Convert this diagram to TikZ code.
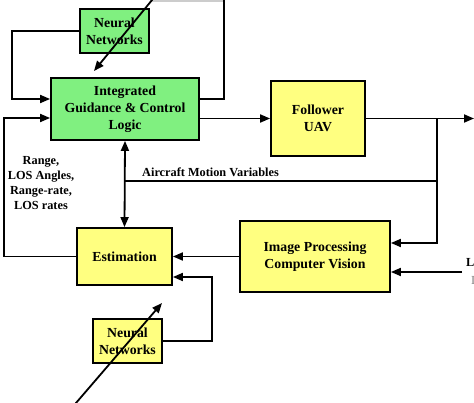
\documentclass[tikz,border=0pt]{standalone}
\usepackage{fontspec}
\setmainfont{Liberation Serif}
\usetikzlibrary{arrows.meta,calc}
\definecolor{boxgreen}{RGB}{128,240,128}
\definecolor{boxyellow}{RGB}{255,255,128}
\begin{document}
\begin{tikzpicture}[x=1pt,y=-1pt,
  box/.style={draw,line width=1.8pt,font=\fontsize{13.8}{17}\selectfont\bfseries,align=center,inner sep=0pt},
  gbox/.style={box,fill=boxgreen},
  ybox/.style={box,fill=boxyellow},
  conn/.style={line width=1.8pt},
  arr/.style={conn,-{Triangle[length=10pt,width=8pt]}},
  darr/.style={conn,{Triangle[length=10pt,width=8pt]}-{Triangle[length=10pt,width=8pt]}},
  lbl/.style={font=\fontsize{12.3}{15}\selectfont\bfseries,align=center,inner sep=0pt}]
\useasboundingbox (0,0) rectangle (474,403);
\fill[white] (0,0) rectangle (474,403);
\clip (0,0) rectangle (474,403);
% boxes
\node[gbox,minimum width=69pt,minimum height=44pt] (nnT) at (114.5,31) {Neural\\Networks};
\node[gbox,minimum width=148pt,minimum height=62pt] (igcl) at (125,109) {Integrated\\Guidance \& Control\\Logic};
\node[ybox,minimum width=94pt,minimum height=75pt] (uav) at (318,118.5) {Follower\\UAV};
\node[ybox,minimum width=95pt,minimum height=57pt] (est) at (124.5,256.5) {Estimation};
\node[ybox,minimum width=150pt,minimum height=71pt] (ipcv) at (315,256.5) {Image Processing\\Computer Vision};
\node[ybox,minimum width=69pt,minimum height=44pt] (nnB) at (127.5,341) {Neural\\Networks};
% helper coordinates
\coordinate (topfb) at (224,-10);
\coordinate (br) at (437,118.5);
\coordinate (out) at (474,118.5);
\coordinate (amv) at (437,181);
\coordinate (inL) at (462,272);
\coordinate (dTs) at (160.2,-10);
\coordinate (dTe) at (94,71);
\coordinate (dBs) at (67.4,413);
\coordinate (dBe) at (162,303);
% faint top line
\draw[gray!40,line width=1.5pt] (150,0.8) -- (224,0.8);
% connectors
\draw[arr] (nnT.west) -| (12,99) -- ([yshift=10pt]igcl.west);
\draw[conn] ([yshift=10pt]igcl.east) -| (topfb);
\draw[arr] (est.west) -| (4,118) -- ([yshift=-9pt]igcl.west);
\draw[arr] (igcl.east |- uav.west) -- (uav.west);
\draw[arr] (uav.east) -- (out);
\draw[darr] (igcl.south) -- (est.north);
\draw[conn] (br) -- (amv) -- (igcl.south |- amv);
\draw[arr] (br) |- ([yshift=13.5pt]ipcv.east);
\draw[arr] (inL) -- ([yshift=-15.5pt]ipcv.east);
\draw[arr] (ipcv.west) -- (est.east);
\draw[arr] (nnB.east) -| (212,300) |- ([yshift=-20.5pt]est.east);
\draw[arr] (dTs) -- (dTe);
\draw[arr] (dBs) -- (dBe);
% labels
\node[lbl,anchor=west] (amvl) at (142,172) {Aircraft Motion Variables};
\node[lbl] (rng) at (41,183) {Range,\\LOS Angles,\\Range-rate,\\LOS rates};
\node[lbl,anchor=west] (cutL) at (466,262) {L};
\node[font=\fontsize{12.3}{15}\selectfont,anchor=west,inner sep=0pt,gray] (cutI) at (471,280) {I};
\end{tikzpicture}
\end{document}
